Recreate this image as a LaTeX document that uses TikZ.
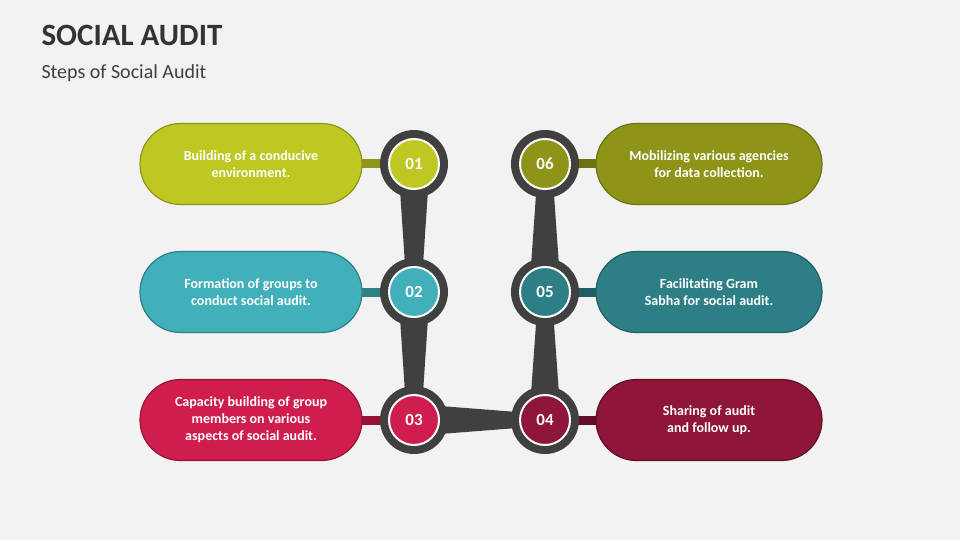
\documentclass[tikz,border=0pt]{standalone}
\usepackage{fontspec}
\setmainfont{Carlito}
\begin{document}
\begin{tikzpicture}[x=1pt,y=-1pt,
  pill/.style={rounded corners=40.5pt,line width=1.2pt},
  ptext/.style={text=white,font=\fontsize{14}{17}\selectfont\bfseries,align=center},
  ring/.style={circle,fill=black!75,minimum size=68pt,inner sep=0pt},
  num/.style={circle,draw=white,line width=2pt,minimum size=50pt,inner sep=0pt,text=white,font=\fontsize{17}{20}\selectfont\bfseries},
  stem/.style={fill=black!75}]
\fill[gray!10] (0,0) rectangle (960,540);
\useasboundingbox (0,0) rectangle (960,540);
\node[anchor=west,font=\fontsize{31}{36}\selectfont\bfseries,text=black!80] (title) at (38,35) {SOCIAL AUDIT};
\node[anchor=west,font=\fontsize{20}{24}\selectfont,text=black!75] (sub) at (38,73) {Steps of Social Audit};
% stems
\fill[stem] (400,190) -- (428,190) -- (422,280) -- (406,280) -- cycle;
\fill[stem] (400,318) -- (428,318) -- (422,408) -- (406,408) -- cycle;
\fill[stem] (440,406) -- (440,434) -- (530,427) -- (530,413) -- cycle;
\fill[stem] (531,394) -- (559,394) -- (553,310) -- (537,310) -- cycle;
\fill[stem] (531,266) -- (559,266) -- (553,180) -- (537,180) -- cycle;
% rows
\foreach \y/\c/\d/\n/\t/\cc/\dd/\m/\tt/\nm in {
 164/{191,200,34}/{143,150,24}/01/{Building of a conducive\\environment.}/{142,148,24}/{110,115,18}/06/{Mobilizing various agencies\\for data collection.}/a,
 292/{66,176,186}/{47,128,134}/02/{Formation of groups to\\conduct social audit.}/{46,127,133}/{33,95,100}/05/{Facilitating Gram\\Sabha for social audit.}/b,
 420/{207,30,78}/{150,20,55}/03/{Capacity building of group\\members on various\\aspects of social audit.}/{142,22,56}/{100,14,38}/04/{Sharing of audit\\and follow up.}/c}{
  \definecolor{L}{RGB}{\c}\definecolor{LD}{RGB}{\d}
  \definecolor{R}{RGB}{\cc}\definecolor{RD}{RGB}{\dd}
  \fill[LD] (355,\y-4.5) rectangle (385,\y+4.5);
  \fill[RD] (575,\y-4.5) rectangle (600,\y+4.5);
  \filldraw[pill,fill=L,draw=LD] (140,\y-40.5) rectangle (362,\y+40.5);
  \filldraw[pill,fill=R,draw=RD] (596,\y-40.5) rectangle (822,\y+40.5);
  \node[ptext] (lt\nm) at (251,\y) {\t};
  \node[ptext] (rt\nm) at (709,\y) {\tt};
  \node[ring] (lr\nm) at (414,\y) {};
  \node[ring] (rr\nm) at (545,\y) {};
  \node[num,fill=L] (ln\nm) at (414,\y) {\n};
  \node[num,fill=R] (rn\nm) at (545,\y) {\m};
}
\end{tikzpicture}
\end{document}
